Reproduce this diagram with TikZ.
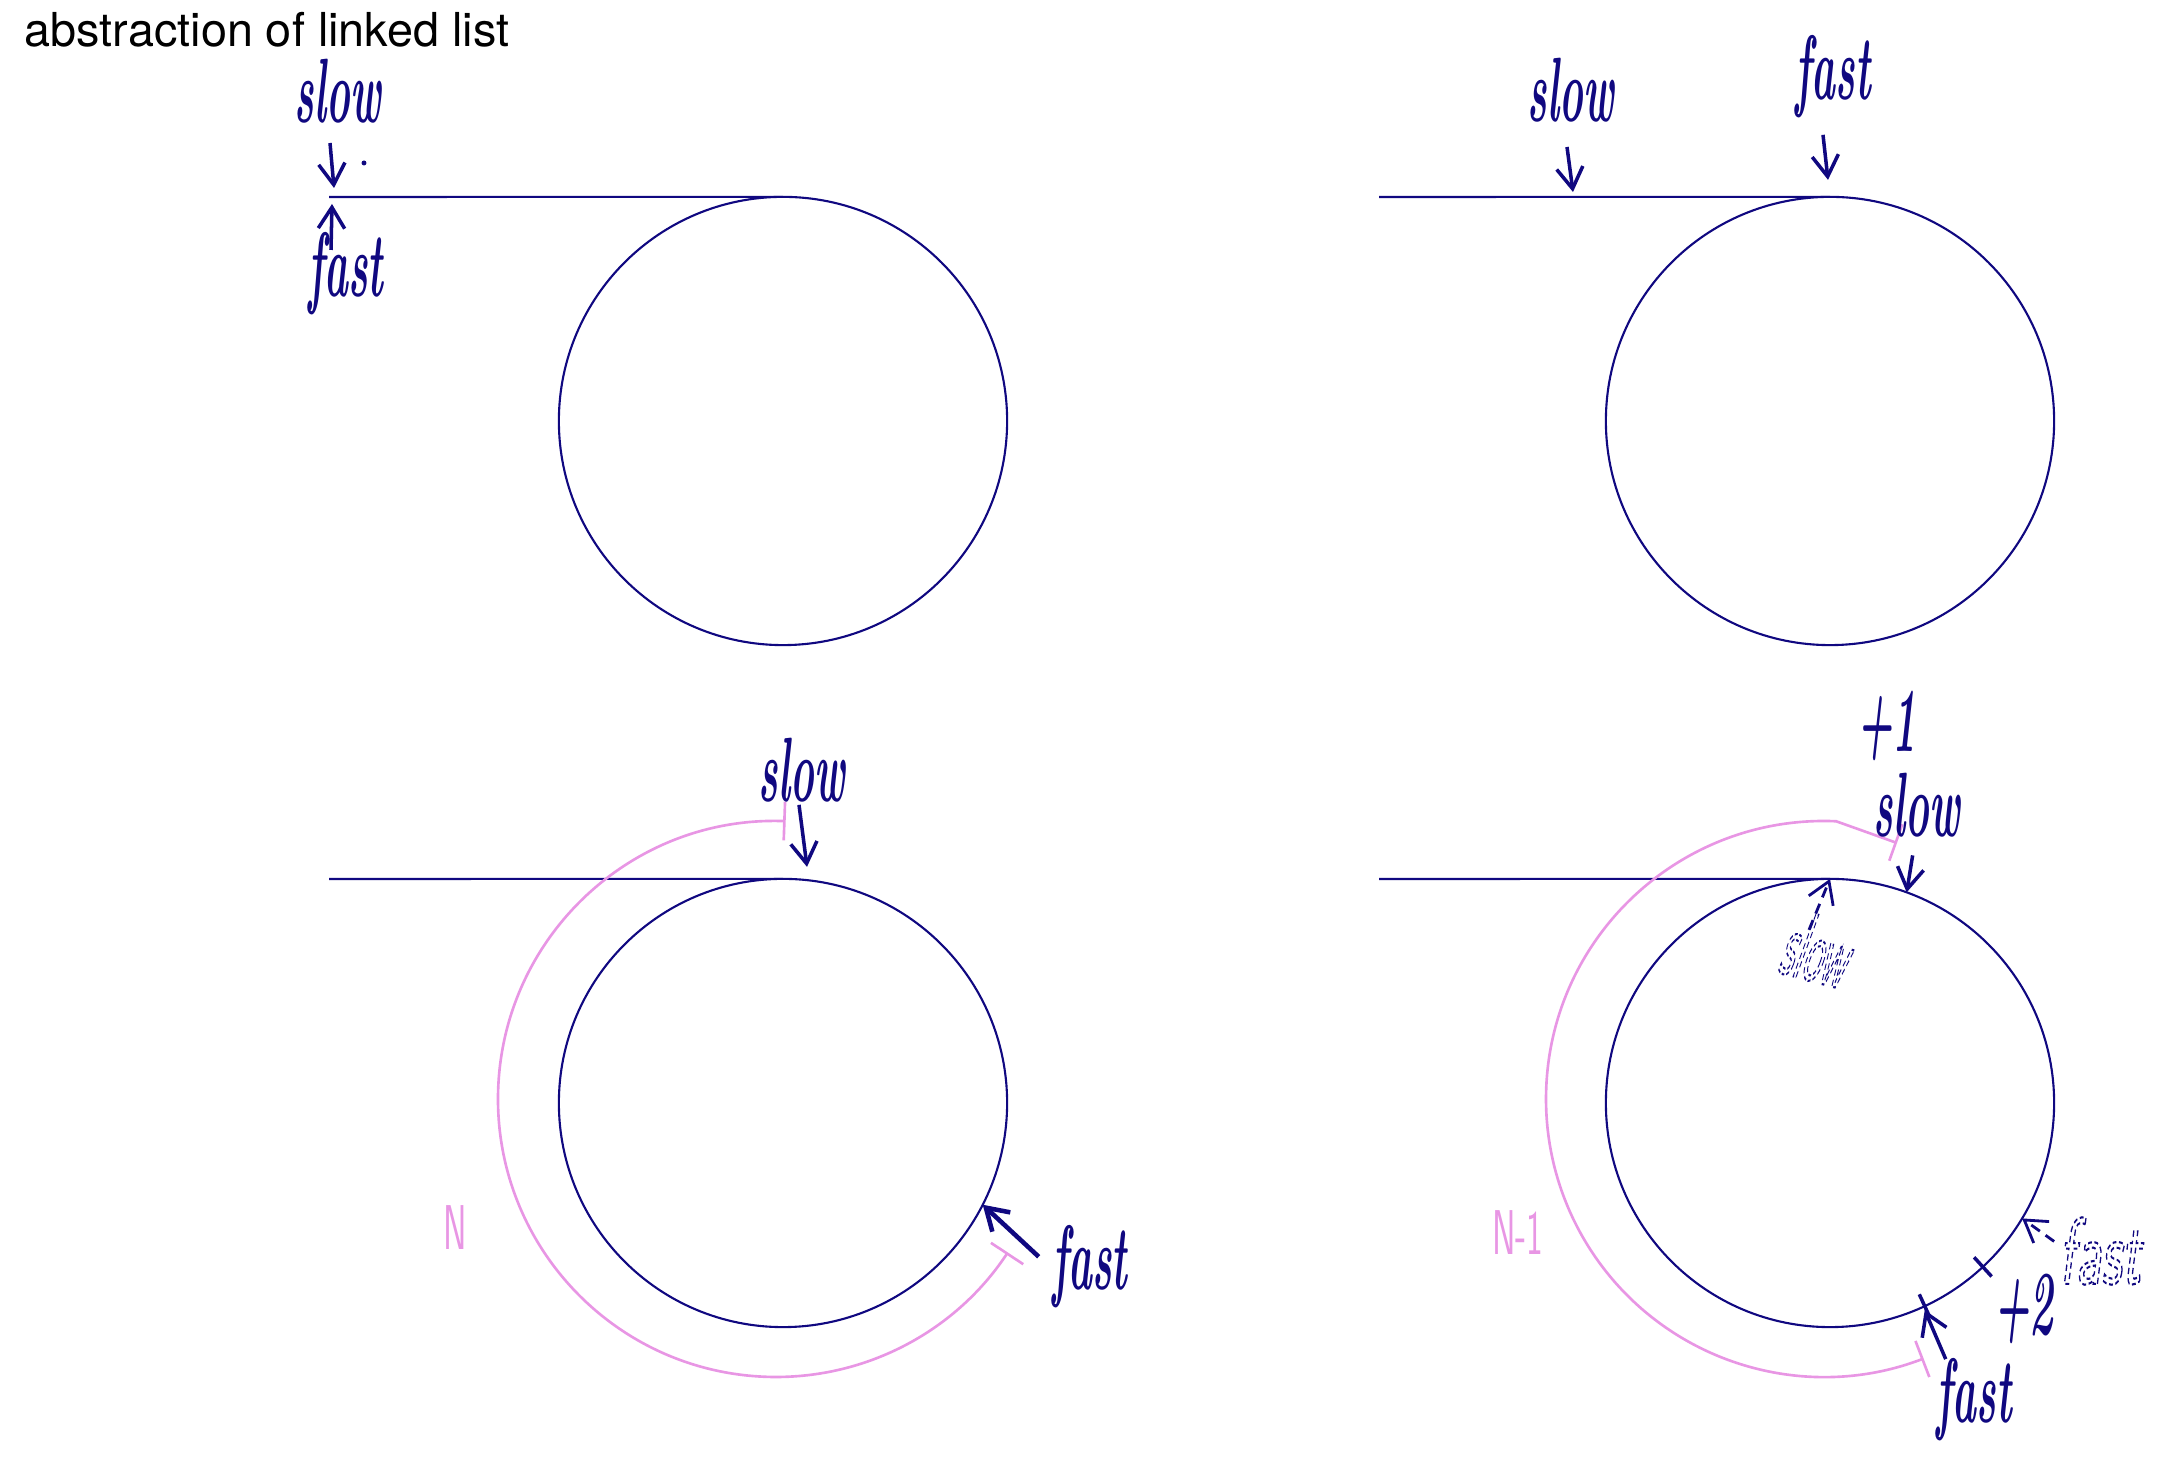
\documentclass[tikz,border=0pt]{standalone}
\usepackage{fontspec}
\usepackage{graphicx}
\usetikzlibrary{arrows.meta}

\newfontfamily\titlefont{TeX Gyre Heros}
\definecolor{navyink}{RGB}{16,8,128}
\definecolor{pinkink}{RGB}{232,150,228}

% handwritten words, pink counts, dashed (outlined) words
\newcommand{\hand}[1]{\scalebox{0.44}[1]{\fontsize{26}{26}\selectfont\bfseries\itshape #1}}
\newcommand{\tally}[1]{\scalebox{0.56}[1]{\fontsize{18}{18}\selectfont\sffamily #1}}
\newcommand{\dashedword}[2][0.6]{\scalebox{#1}[1]{\fontsize{27}{27}\selectfont\sffamily\itshape
  \special{pdf:literal direct 1 Tr 0.6 w [1.8 1.2] 0 d}#2\special{pdf:literal direct 0 Tr [] 0 d}}}

\tikzset{
  ring/.style={circle, draw=navyink, line width=0.6pt, minimum size=4.48cm, inner sep=0pt, outer sep=0pt},
  stem/.style={draw=navyink, line width=0.6pt},
  pen/.style={navyink, line width=1pt, -{Straight Barb[length=6pt,width=7.5pt]}},
  ghost/.style={pen, line width=0.8pt, dash pattern=on 3pt off 2pt},
  tick/.style={navyink, line width=1pt},
  word/.style={text=navyink, inner sep=0pt, anchor=base},
  lap/.style={pinkink, line width=0.75pt, arrows={Bar[width=11pt]-Bar[width=11pt]}},
}

\begin{document}
\begin{tikzpicture}[x=0.01cm,y=0.01cm]
  \useasboundingbox (0,0) rectangle (2178,1482);

  \node[anchor=base west, inner sep=0pt] (title) at (24,1435)
    {\titlefont\fontsize{13.3}{16}\selectfont abstraction of linked list};

  % top left: both at the head
  \node[ring] (loopA) at (783,1061) {};
  \coordinate (headA) at (329,1285);
  \draw[stem] (headA) -- (loopA.north);
  \node[word] (slowA) at (338,1359) {\hand{slow}};
  \node[word] (fastA) at (346,1185) {\hand{fast}};
  \draw[pen] ([shift={(1,54)}]headA) -- ([shift={(5,9)}]headA);
  \draw[pen] ([shift={(2,-53)}]headA) -- ([shift={(3,-7)}]headA);
  \node[circle, fill=navyink, inner sep=0.5pt] (dotA) at (364,1319) {};

  % top right: fast enters the loop
  \node[ring] (loopB) at (1830,1061) {};
  \coordinate (headB) at (1379,1285);
  \draw[stem] (headB) -- (loopB.north);
  \node[word] (slowB) at (1571,1360) {\hand{slow}};
  \node[word] (fastB) at (1833,1382) {\hand{fast}};
  \draw[pen] ([shift={(188,50)}]headB) -- ([shift={(194,5)}]headB);
  \draw[pen] ([shift={(-7,62)}]loopB.north) -- ([shift={(-2,17)}]loopB.north);

  % bottom left: slow enters, fast is N behind
  \node[ring] (loopC) at (783,379) {};
  \coordinate (headC) at (329,603);
  \draw[stem] (headC) -- (loopC.north);
  \coordinate (lapC) at (776,383);
  \draw[lap] ([shift={(88:278)}]lapC) arc[start angle=88, end angle=326.5, radius=278];
  \node[word] (slowC) at (802,680) {\hand{slow}};
  \draw[pen] ([shift={(16,74)}]loopC.north) -- ([shift={(24,12)}]loopC.north);
  \draw[pen, line width=1.3pt] ([shift={(56,-52)}]loopC.-27.5) -- (loopC.-27.5);
  \node[word] (fastC) at (1090,192) {\hand{fast}};
  \node[word, text=pinkink] (countC) at (455,232) {\tally{N}};

  % bottom right: one step later
  \node[ring] (loopD) at (1830,379) {};
  \coordinate (headD) at (1379,603);
  \draw[stem] (headD) -- (loopD.north);
  \coordinate (lapD) at (1824,383);
  \draw[lap] (1897,639) -- ([shift={(87.5:278)}]lapD) arc[start angle=87.5, end angle=291, radius=278];
  \node[word] (stepD1) at (1887,730) {\hand{+1}};
  \node[word] (slowD) at (1917,645) {\hand{slow}};
  \draw[pen] ([shift={(6,37)}]loopD.70) -- (loopD.70);
  \draw[tick] ([shift={(-47.6:-13)}]loopD.-47.6) -- ([shift={(-47.6:13)}]loopD.-47.6);
  \draw[tick] ([shift={(-65.3:-13)}]loopD.-65.3) -- ([shift={(-65.3:13)}]loopD.-65.3);
  \draw[pen] ([shift={(21,-53)}]loopD.-65.5) -- ([shift={(0,-4)}]loopD.-65.5);
  \node[word] (stepD2) at (2024,147) {\hand{+2}};
  \node[word] (fastD) at (1974,59) {\hand{fast}};
  \node[word, text=pinkink] (countD) at (1518,227) {\tally{N-1}};

  % where they were
  \draw[ghost] ([shift={(-21,-51)}]loopD.north) -- (loopD.north);
  \draw[ghost] ([shift={(32,-23)}]loopD.-31) -- (loopD.-31);
  \node[word, anchor=center, rotate=-15] (slowOld) at (1817,533) {\dashedword[0.42]{slow}};
  \node[word, anchor=center] (fastOld) at (2100,231) {\dashedword{fast}};
\end{tikzpicture}
\end{document}
